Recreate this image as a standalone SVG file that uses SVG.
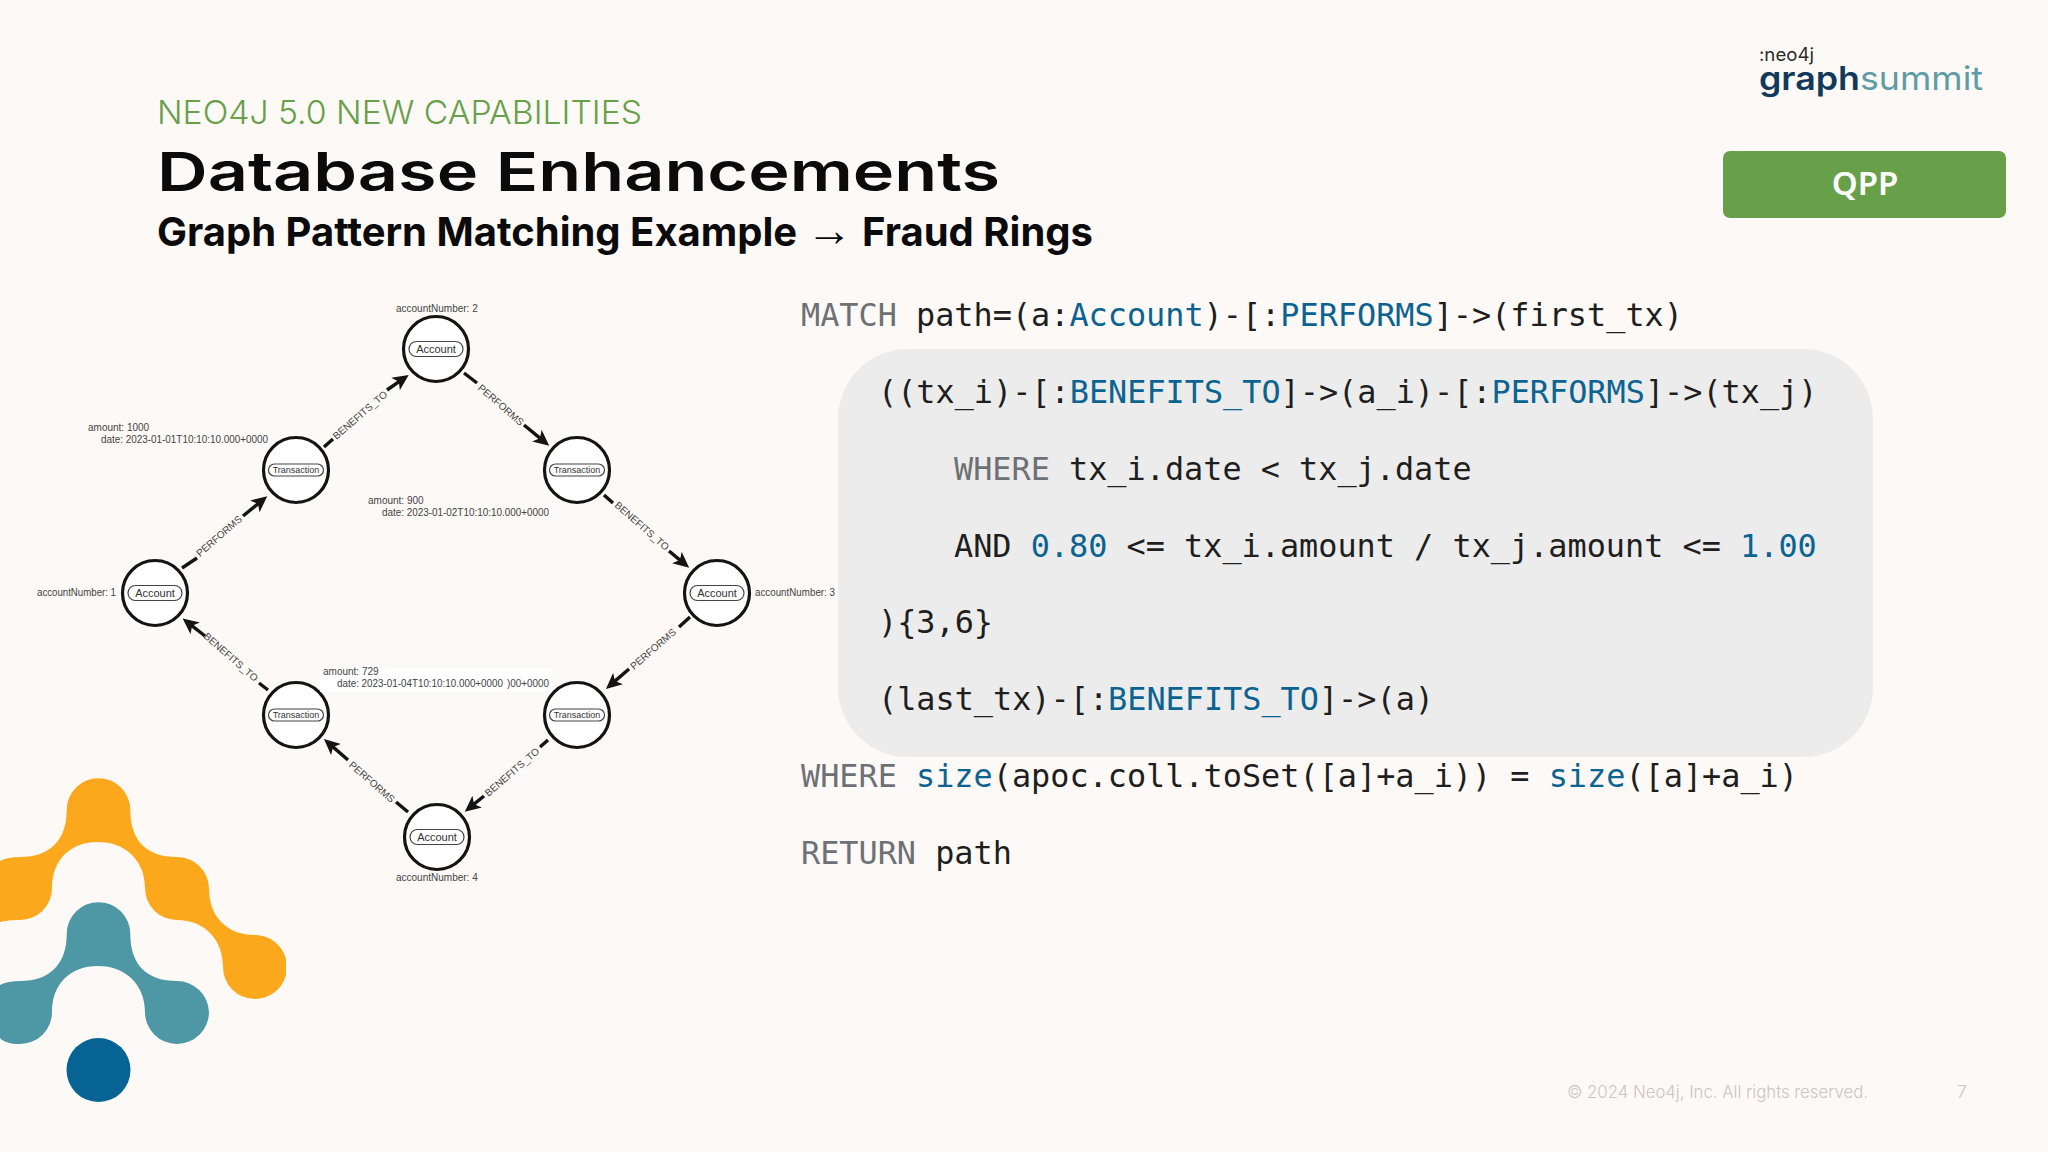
<svg xmlns="http://www.w3.org/2000/svg" width="2048" height="1152" viewBox="0 0 2048 1152">
<style>
.n{fill:#fff;stroke:#141414;stroke-width:3.2}
.p{fill:#fff;stroke:#444;stroke-width:1.2}
.pt{font:11px "Liberation Sans",Arial,sans-serif;fill:#333;text-anchor:middle}
.tt{font-size:9px}
.lb{font:10px "Liberation Sans",Arial,sans-serif;fill:#444}
.el{font:10px "Liberation Sans",Arial,sans-serif;fill:#444;text-anchor:middle}
.e{fill:none;stroke:#141414;stroke-width:3.4}
.c{font:31.85px "DejaVu Sans Mono","Liberation Mono",monospace;fill:#1e1e1e}
.k{fill:#6d7175}
.b{fill:#0b6391}
</style>
<defs>
<marker id="ah" markerUnits="userSpaceOnUse" markerWidth="18" markerHeight="16" refX="6" refY="8" orient="auto" viewBox="0 0 18 16"><path d="M0,0.5 L16,8 L0,15.500 L4,8 Z" fill="#141414"/></marker>
</defs>
<rect width="2048" height="1152" fill="#fdf9f6"/>
<g id="decor">
<path fill="#fca81c" d="M66.700,810 A31.800,31.800 0 0 1 130.300,810 C130.300,842 148,857 177,857 A32,32 0 0 1 209,888 C209,918 228,935 255,935 A32,32 0 0 1 286,959 L286,975 A32,32 0 0 1 255,999 A32,32 0 0 1 223,967 C223,940 205,920 177,920 A32,32 0 0 1 145,888 C145,860 125,842 98,842 C70,842 52,860 52,888 A32,32 0 0 1 20,920 C10,920 4,921 0,922 L0,861 C6,858 12,857 20,857 C50,857 66.700,840 66.700,810 Z"/>
<path fill="#4e98a5" d="M66.700,934 A31.800,31.800 0 0 1 130.300,934 C130.300,966 148,981 177,981 A32,32 0 0 1 209,1012.500 A32,32 0 0 1 177,1044 A32,32 0 0 1 145,1012 C145,984 125,966 98,966 C70,966 52,984 52,1012 A32,32 0 0 1 20,1044 C10,1044 4,1042 0,1038 L0,985 C6,982 12,981 20,981 C50,981 66.700,964 66.700,934 Z"/>
<circle cx="98.500" cy="1070" r="32" fill="#076394"/>
</g>
<g id="header">
<text x="157" y="124" font-family="Inter,'Liberation Sans',sans-serif" font-size="33" fill="#68a04a" font-weight="300" textLength="485" lengthAdjust="spacingAndGlyphs">NEO4J 5.0 NEW CAPABILITIES</text>
<text x="157" y="191" font-family="Inter,'Liberation Sans',sans-serif" font-size="54" font-weight="600" fill="#0b0b0b" textLength="843" lengthAdjust="spacingAndGlyphs">Database Enhancements</text>
<text x="157" y="246" font-family="Inter,'Liberation Sans',sans-serif" font-size="40" font-weight="700" fill="#0b0b0b" textLength="936" lengthAdjust="spacingAndGlyphs">Graph Pattern Matching Example <tspan font-family="'Liberation Sans',sans-serif" font-weight="400" font-size="46">→</tspan> Fraud Rings</text>
</g>
<g id="logo">
<text x="1759" y="61" font-family="Inter,'Liberation Sans',sans-serif" font-size="18" fill="#2b2b2b" textLength="55" lengthAdjust="spacingAndGlyphs">:neo4j</text>
<text x="1759" y="90" font-family="Inter,'Liberation Sans',sans-serif" font-size="33" textLength="224" lengthAdjust="spacingAndGlyphs"><tspan fill="#12395c" font-weight="600">graph</tspan><tspan fill="#5f9ca6" font-weight="400">summit</tspan></text>
</g>
<g id="qpp">
<rect x="1723" y="151" width="283" height="67" rx="7" fill="#68a04a"/>
<text x="1865" y="195" font-family="'Noto Sans','Open Sans',sans-serif" font-size="33" font-weight="600" fill="#fff" text-anchor="middle">QPP</text>
</g>
<g id="connectors">
<path class="e" d="M182,568 L197,558"/><path class="e" d="M243,516 L259.500,502.600" marker-end="url(#ah)"/>
<path class="e" d="M324,447 L333,439"/><path class="e" d="M387,390 L400.500,380.600" marker-end="url(#ah)"/>
<path class="e" d="M464,373 L477,383"/><path class="e" d="M524,425 L541.500,439.400" marker-end="url(#ah)"/>
<path class="e" d="M604,495 L613,503"/><path class="e" d="M669,551 L681.500,561.400" marker-end="url(#ah)"/>
<path class="e" d="M690,617 L679,627"/><path class="e" d="M629,669 L613.500,682.400" marker-end="url(#ah)"/>
<path class="e" d="M548,740 L540,747"/><path class="e" d="M484,796 L472.500,805.400" marker-end="url(#ah)"/>
<path class="e" d="M408,812 L396,802"/><path class="e" d="M348,760 L331.500,745.600" marker-end="url(#ah)"/>
<path class="e" d="M268,690 L259,683"/><path class="e" d="M205,636 L190.500,624.600" marker-end="url(#ah)"/>
<text class="el" transform="translate(219,536) rotate(-41)" y="3.500">PERFORMS</text>
<text class="el" transform="translate(360,415) rotate(-41)" y="3.500">BENEFITS_TO</text>
<text class="el" transform="translate(501,405) rotate(41)" y="3.500">PERFORMS</text>
<text class="el" transform="translate(642,526) rotate(41)" y="3.500">BENEFITS_TO</text>
<text class="el" transform="translate(653,649) rotate(-41)" y="3.500">PERFORMS</text>
<text class="el" transform="translate(512,772) rotate(-41)" y="3.500">BENEFITS_TO</text>
<text class="el" transform="translate(372,782) rotate(41)" y="3.500">PERFORMS</text>
<text class="el" transform="translate(231,657) rotate(41)" y="3.500">BENEFITS_TO</text>
</g>
<g id="acc2"><circle class="n" cx="436" cy="349" r="32.500"/><rect class="p" x="409" y="341.500" width="54" height="15" rx="7.500"/><text class="pt" x="436" y="352.800">Account</text><text class="lb" x="396" y="312">accountNumber: 2</text></g>
<g id="tx1"><circle class="n" cx="296" cy="470" r="32.500"/><rect class="p" x="268.500" y="464" width="55" height="12" rx="6"/><text class="pt tt" x="296" y="473.300">Transaction</text><text class="lb" x="88" y="431">amount: 1000</text><text class="lb" x="101" y="443" textLength="167" lengthAdjust="spacingAndGlyphs">date: 2023-01-01T10:10:10.000+0000</text></g>
<g id="tx2"><circle class="n" cx="577" cy="470" r="32.500"/><rect class="p" x="549.500" y="464" width="55" height="12" rx="6"/><text class="pt tt" x="577" y="473.300">Transaction</text><text class="lb" x="368" y="504">amount: 900</text><text class="lb" x="382" y="516" textLength="167" lengthAdjust="spacingAndGlyphs">date: 2023-01-02T10:10:10.000+0000</text></g>
<g id="acc1"><circle class="n" cx="155" cy="593" r="32.500"/><rect class="p" x="128" y="585.500" width="54" height="15" rx="7.500"/><text class="pt" x="155" y="596.800">Account</text><text class="lb" x="37" y="596" textLength="79" lengthAdjust="spacingAndGlyphs">accountNumber: 1</text></g>
<g id="acc3"><circle class="n" cx="717" cy="593" r="32.500"/><rect class="p" x="690" y="585.500" width="54" height="15" rx="7.500"/><text class="pt" x="717" y="596.800">Account</text><text class="lb" x="755" y="596" textLength="80" lengthAdjust="spacingAndGlyphs">accountNumber: 3</text></g>
<g id="tx4"><circle class="n" cx="296" cy="715" r="32.500"/><rect class="p" x="268.500" y="709" width="55" height="12" rx="6"/><text class="pt tt" x="296" y="718.300">Transaction</text></g>
<g id="tx3"><circle class="n" cx="577" cy="715" r="32.500"/><rect class="p" x="549.500" y="709" width="55" height="12" rx="6"/><text class="pt tt" x="577" y="718.300">Transaction</text></g>
<g id="tx-label"><rect x="320" y="668" width="232" height="24" fill="#fff"/><text class="lb" x="323" y="675">amount: 729</text><text class="lb" x="337" y="687" textLength="166" lengthAdjust="spacingAndGlyphs">date: 2023-01-04T10:10:10.000+0000</text><text class="lb" x="507" y="687" textLength="42" lengthAdjust="spacingAndGlyphs">)00+0000</text></g>
<g id="acc4"><circle class="n" cx="437" cy="837" r="32.500"/><rect class="p" x="410" y="829.500" width="54" height="15" rx="7.500"/><text class="pt" x="437" y="840.800">Account</text><text class="lb" x="396" y="881">accountNumber: 4</text></g>
<g id="code">
<rect x="838" y="349" width="1035" height="408" rx="70" fill="#ececec"/>
<text class="c" x="801" y="326"><tspan class="k">MATCH</tspan> path=(a:<tspan class="b">Account</tspan>)-[:<tspan class="b">PERFORMS</tspan>]-&gt;(first_tx)</text>
<text class="c" x="878" y="403">((tx_i)-[:<tspan class="b">BENEFITS_TO</tspan>]-&gt;(a_i)-[:<tspan class="b">PERFORMS</tspan>]-&gt;(tx_j)</text>
<text class="c" x="954" y="480"><tspan class="k">WHERE</tspan> tx_i.date &lt; tx_j.date</text>
<text class="c" x="954" y="556.500">AND <tspan class="b">0.80</tspan> &lt;= tx_i.amount / tx_j.amount &lt;= <tspan class="b">1.00</tspan></text>
<text class="c" x="878" y="633">){3,6}</text>
<text class="c" x="878" y="710">(last_tx)-[:<tspan class="b">BENEFITS_TO</tspan>]-&gt;(a)</text>
<text class="c" x="801" y="787"><tspan class="k">WHERE</tspan> <tspan class="b">size</tspan>(apoc.coll.toSet([a]+a_i)) = <tspan class="b">size</tspan>([a]+a_i)</text>
<text class="c" x="801" y="864"><tspan class="k">RETURN</tspan> path</text>
</g>
<g id="footer">
<text x="1567" y="1098" font-family="Inter,'Liberation Sans',sans-serif" font-size="17.500" font-weight="300" fill="#c9c6c3" textLength="301" lengthAdjust="spacingAndGlyphs">© 2024 Neo4j, Inc. All rights reserved.</text>
<text x="1957" y="1098" font-family="Inter,'Liberation Sans',sans-serif" font-size="17.500" font-weight="300" fill="#c9c6c3">7</text>
</g>
</svg>
